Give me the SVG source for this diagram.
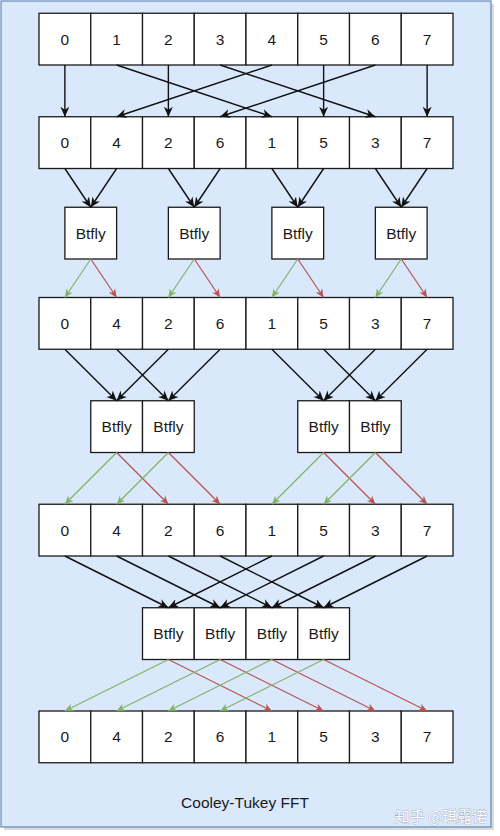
<svg xmlns="http://www.w3.org/2000/svg" width="500" height="836" viewBox="0 0 500 836">
<style>
.cell{fill:#ffffff;stroke:#1a1a1a;stroke-width:1.3}
.lbl{font-family:"Liberation Sans",Arial,sans-serif;font-size:15.5px;fill:#1a1a1a;text-anchor:middle}
.k{stroke:#111;stroke-width:1.4;fill:none;marker-end:url(#ak)}
.g{stroke:#82b366;stroke-width:1.2;fill:none;marker-end:url(#ag)}
.r{stroke:#b85450;stroke-width:1.2;fill:none;marker-end:url(#ar)}
</style>
<defs>
<marker id="ak" viewBox="0 0 10 10" refX="10" refY="5" markerWidth="10" markerHeight="10" markerUnits="userSpaceOnUse" orient="auto"><path d="M0,0.5 L10,5 L0,9.5 L3,5 z" fill="#111"/></marker>
<marker id="ag" viewBox="0 0 10 10" refX="10" refY="5" markerWidth="8.5" markerHeight="8.5" markerUnits="userSpaceOnUse" orient="auto"><path d="M0,0.5 L10,5 L0,9.5 L3,5 z" fill="#82b366"/></marker>
<marker id="ar" viewBox="0 0 10 10" refX="10" refY="5" markerWidth="8.5" markerHeight="8.5" markerUnits="userSpaceOnUse" orient="auto"><path d="M0,0.5 L10,5 L0,9.5 L3,5 z" fill="#b85450"/></marker>
</defs>
<rect x="4" y="4" width="490" height="826" fill="#9a9a9a" opacity="0.35"/>
<g id="background"><rect x="1" y="1" width="490" height="826" fill="#dae8fc" stroke="#6c8ebf" stroke-width="1.3"/></g>

<g id="row1">
<g id="r1c0"><rect class="cell" x="39" y="13.25" width="51.75" height="51.75"/><text class="lbl" x="64.875" y="44.6">0</text></g>
<g id="r1c1"><rect class="cell" x="90.75" y="13.25" width="51.75" height="51.75"/><text class="lbl" x="116.625" y="44.6">1</text></g>
<g id="r1c2"><rect class="cell" x="142.5" y="13.25" width="51.75" height="51.75"/><text class="lbl" x="168.375" y="44.6">2</text></g>
<g id="r1c3"><rect class="cell" x="194.25" y="13.25" width="51.75" height="51.75"/><text class="lbl" x="220.125" y="44.6">3</text></g>
<g id="r1c4"><rect class="cell" x="246" y="13.25" width="51.75" height="51.75"/><text class="lbl" x="271.875" y="44.6">4</text></g>
<g id="r1c5"><rect class="cell" x="297.75" y="13.25" width="51.75" height="51.75"/><text class="lbl" x="323.625" y="44.6">5</text></g>
<g id="r1c6"><rect class="cell" x="349.5" y="13.25" width="51.75" height="51.75"/><text class="lbl" x="375.375" y="44.6">6</text></g>
<g id="r1c7"><rect class="cell" x="401.25" y="13.25" width="51.75" height="51.75"/><text class="lbl" x="427.125" y="44.6">7</text></g>
</g>

<g id="row2">
<g id="r2c0"><rect class="cell" x="39" y="116.75" width="51.75" height="51.75"/><text class="lbl" x="64.875" y="148.1">0</text></g>
<g id="r2c1"><rect class="cell" x="90.75" y="116.75" width="51.75" height="51.75"/><text class="lbl" x="116.625" y="148.1">4</text></g>
<g id="r2c2"><rect class="cell" x="142.5" y="116.75" width="51.75" height="51.75"/><text class="lbl" x="168.375" y="148.1">2</text></g>
<g id="r2c3"><rect class="cell" x="194.25" y="116.75" width="51.75" height="51.75"/><text class="lbl" x="220.125" y="148.1">6</text></g>
<g id="r2c4"><rect class="cell" x="246" y="116.75" width="51.75" height="51.75"/><text class="lbl" x="271.875" y="148.1">1</text></g>
<g id="r2c5"><rect class="cell" x="297.75" y="116.75" width="51.75" height="51.75"/><text class="lbl" x="323.625" y="148.1">5</text></g>
<g id="r2c6"><rect class="cell" x="349.5" y="116.75" width="51.75" height="51.75"/><text class="lbl" x="375.375" y="148.1">3</text></g>
<g id="r2c7"><rect class="cell" x="401.25" y="116.75" width="51.75" height="51.75"/><text class="lbl" x="427.125" y="148.1">7</text></g>
</g>

<g id="btfly1">
<g id="b1n0"><rect class="cell" x="64.875" y="207.25" width="51.75" height="51.75"/><text class="lbl" x="90.75" y="238.6">Btfly</text></g>
<g id="b1n1"><rect class="cell" x="168.375" y="207.25" width="51.75" height="51.75"/><text class="lbl" x="194.25" y="238.6">Btfly</text></g>
<g id="b1n2"><rect class="cell" x="271.875" y="207.25" width="51.75" height="51.75"/><text class="lbl" x="297.75" y="238.6">Btfly</text></g>
<g id="b1n3"><rect class="cell" x="375.375" y="207.25" width="51.75" height="51.75"/><text class="lbl" x="401.25" y="238.6">Btfly</text></g>
</g>

<g id="row3">
<g id="r3c0"><rect class="cell" x="39" y="297.5" width="51.75" height="51.75"/><text class="lbl" x="64.875" y="328.9">0</text></g>
<g id="r3c1"><rect class="cell" x="90.75" y="297.5" width="51.75" height="51.75"/><text class="lbl" x="116.625" y="328.9">4</text></g>
<g id="r3c2"><rect class="cell" x="142.5" y="297.5" width="51.75" height="51.75"/><text class="lbl" x="168.375" y="328.9">2</text></g>
<g id="r3c3"><rect class="cell" x="194.25" y="297.5" width="51.75" height="51.75"/><text class="lbl" x="220.125" y="328.9">6</text></g>
<g id="r3c4"><rect class="cell" x="246" y="297.5" width="51.75" height="51.75"/><text class="lbl" x="271.875" y="328.9">1</text></g>
<g id="r3c5"><rect class="cell" x="297.75" y="297.5" width="51.75" height="51.75"/><text class="lbl" x="323.625" y="328.9">5</text></g>
<g id="r3c6"><rect class="cell" x="349.5" y="297.5" width="51.75" height="51.75"/><text class="lbl" x="375.375" y="328.9">3</text></g>
<g id="r3c7"><rect class="cell" x="401.25" y="297.5" width="51.75" height="51.75"/><text class="lbl" x="427.125" y="328.9">7</text></g>
</g>

<g id="btfly2">
<g id="b2n0"><rect class="cell" x="90.75" y="400.75" width="51.75" height="51.75"/><text class="lbl" x="116.625" y="432.1">Btfly</text></g>
<g id="b2n1"><rect class="cell" x="142.5" y="400.75" width="51.75" height="51.75"/><text class="lbl" x="168.375" y="432.1">Btfly</text></g>
<g id="b2n2"><rect class="cell" x="297.75" y="400.75" width="51.75" height="51.75"/><text class="lbl" x="323.625" y="432.1">Btfly</text></g>
<g id="b2n3"><rect class="cell" x="349.5" y="400.75" width="51.75" height="51.75"/><text class="lbl" x="375.375" y="432.1">Btfly</text></g>
</g>

<g id="row4">
<g id="r4c0"><rect class="cell" x="39" y="504.25" width="51.75" height="51.75"/><text class="lbl" x="64.875" y="535.6">0</text></g>
<g id="r4c1"><rect class="cell" x="90.75" y="504.25" width="51.75" height="51.75"/><text class="lbl" x="116.625" y="535.6">4</text></g>
<g id="r4c2"><rect class="cell" x="142.5" y="504.25" width="51.75" height="51.75"/><text class="lbl" x="168.375" y="535.6">2</text></g>
<g id="r4c3"><rect class="cell" x="194.25" y="504.25" width="51.75" height="51.75"/><text class="lbl" x="220.125" y="535.6">6</text></g>
<g id="r4c4"><rect class="cell" x="246" y="504.25" width="51.75" height="51.75"/><text class="lbl" x="271.875" y="535.6">1</text></g>
<g id="r4c5"><rect class="cell" x="297.75" y="504.25" width="51.75" height="51.75"/><text class="lbl" x="323.625" y="535.6">5</text></g>
<g id="r4c6"><rect class="cell" x="349.5" y="504.25" width="51.75" height="51.75"/><text class="lbl" x="375.375" y="535.6">3</text></g>
<g id="r4c7"><rect class="cell" x="401.25" y="504.25" width="51.75" height="51.75"/><text class="lbl" x="427.125" y="535.6">7</text></g>
</g>

<g id="btfly3">
<g id="b3n0"><rect class="cell" x="142.5" y="607.75" width="51.75" height="51.75"/><text class="lbl" x="168.375" y="639.1">Btfly</text></g>
<g id="b3n1"><rect class="cell" x="194.25" y="607.75" width="51.75" height="51.75"/><text class="lbl" x="220.125" y="639.1">Btfly</text></g>
<g id="b3n2"><rect class="cell" x="246" y="607.75" width="51.75" height="51.75"/><text class="lbl" x="271.875" y="639.1">Btfly</text></g>
<g id="b3n3"><rect class="cell" x="297.75" y="607.75" width="51.75" height="51.75"/><text class="lbl" x="323.625" y="639.1">Btfly</text></g>
</g>

<g id="row5">
<g id="r5c0"><rect class="cell" x="39" y="711" width="51.75" height="51.75"/><text class="lbl" x="64.875" y="742.4">0</text></g>
<g id="r5c1"><rect class="cell" x="90.75" y="711" width="51.75" height="51.75"/><text class="lbl" x="116.625" y="742.4">4</text></g>
<g id="r5c2"><rect class="cell" x="142.5" y="711" width="51.75" height="51.75"/><text class="lbl" x="168.375" y="742.4">2</text></g>
<g id="r5c3"><rect class="cell" x="194.25" y="711" width="51.75" height="51.75"/><text class="lbl" x="220.125" y="742.4">6</text></g>
<g id="r5c4"><rect class="cell" x="246" y="711" width="51.75" height="51.75"/><text class="lbl" x="271.875" y="742.4">1</text></g>
<g id="r5c5"><rect class="cell" x="297.75" y="711" width="51.75" height="51.75"/><text class="lbl" x="323.625" y="742.4">5</text></g>
<g id="r5c6"><rect class="cell" x="349.5" y="711" width="51.75" height="51.75"/><text class="lbl" x="375.375" y="742.4">3</text></g>
<g id="r5c7"><rect class="cell" x="401.25" y="711" width="51.75" height="51.75"/><text class="lbl" x="427.125" y="742.4">7</text></g>
</g>

<g id="connectors">
<!-- stage 0: bit reversal -->
<path class="k" d="M64.875,65 L64.875,116.75"/>
<path class="k" d="M116.625,65 L271.875,116.75"/>
<path class="k" d="M168.375,65 L168.375,116.75"/>
<path class="k" d="M220.125,65 L375.375,116.75"/>
<path class="k" d="M271.875,65 L116.625,116.75"/>
<path class="k" d="M323.625,65 L323.625,116.75"/>
<path class="k" d="M375.375,65 L220.125,116.75"/>
<path class="k" d="M427.125,65 L427.125,116.75"/>
<!-- stage 1 in -->
<path class="k" d="M64.875,168.5 L90.75,207.25"/>
<path class="k" d="M116.625,168.5 L90.75,207.25"/>
<path class="k" d="M168.375,168.5 L194.25,207.25"/>
<path class="k" d="M220.125,168.5 L194.25,207.25"/>
<path class="k" d="M271.875,168.5 L297.75,207.25"/>
<path class="k" d="M323.625,168.5 L297.75,207.25"/>
<path class="k" d="M375.375,168.5 L401.25,207.25"/>
<path class="k" d="M427.125,168.5 L401.25,207.25"/>
<!-- stage 1 out -->
<path class="g" d="M90.75,259 L64.875,297.5"/>
<path class="r" d="M90.75,259 L116.625,297.5"/>
<path class="g" d="M194.25,259 L168.375,297.5"/>
<path class="r" d="M194.25,259 L220.125,297.5"/>
<path class="g" d="M297.75,259 L271.875,297.5"/>
<path class="r" d="M297.75,259 L323.625,297.5"/>
<path class="g" d="M401.25,259 L375.375,297.5"/>
<path class="r" d="M401.25,259 L427.125,297.5"/>
<!-- stage 2 in -->
<path class="k" d="M64.875,349.25 L116.625,400.75"/>
<path class="k" d="M168.375,349.25 L116.625,400.75"/>
<path class="k" d="M116.625,349.25 L168.375,400.75"/>
<path class="k" d="M220.125,349.25 L168.375,400.75"/>
<path class="k" d="M271.875,349.25 L323.625,400.75"/>
<path class="k" d="M375.375,349.25 L323.625,400.75"/>
<path class="k" d="M323.625,349.25 L375.375,400.75"/>
<path class="k" d="M427.125,349.25 L375.375,400.75"/>
<!-- stage 2 out -->
<path class="g" d="M116.625,452.5 L64.875,504.25"/>
<path class="r" d="M116.625,452.5 L168.375,504.25"/>
<path class="g" d="M168.375,452.5 L116.625,504.25"/>
<path class="r" d="M168.375,452.5 L220.125,504.25"/>
<path class="g" d="M323.625,452.5 L271.875,504.25"/>
<path class="r" d="M323.625,452.5 L375.375,504.25"/>
<path class="g" d="M375.375,452.5 L323.625,504.25"/>
<path class="r" d="M375.375,452.5 L427.125,504.25"/>
<!-- stage 3 in -->
<path class="k" d="M64.875,556 L168.375,607.75"/>
<path class="k" d="M271.875,556 L168.375,607.75"/>
<path class="k" d="M116.625,556 L220.125,607.75"/>
<path class="k" d="M323.625,556 L220.125,607.75"/>
<path class="k" d="M168.375,556 L271.875,607.75"/>
<path class="k" d="M375.375,556 L271.875,607.75"/>
<path class="k" d="M220.125,556 L323.625,607.75"/>
<path class="k" d="M427.125,556 L323.625,607.75"/>
<!-- stage 3 out -->
<path class="g" d="M168.375,659.5 L64.875,711"/>
<path class="r" d="M168.375,659.5 L271.875,711"/>
<path class="g" d="M220.125,659.5 L116.625,711"/>
<path class="r" d="M220.125,659.5 L323.625,711"/>
<path class="g" d="M271.875,659.5 L168.375,711"/>
<path class="r" d="M271.875,659.5 L375.375,711"/>
<path class="g" d="M323.625,659.5 L220.125,711"/>
<path class="r" d="M323.625,659.5 L427.125,711"/>
</g>

<g id="title"><text class="lbl" x="245" y="808">Cooley-Tukey FFT</text></g>
<g id="watermark"><text x="441" y="822" font-family="'Noto Sans CJK SC','Liberation Sans',sans-serif" font-size="15" text-anchor="middle" fill="#ffffff" stroke="#8a96a6" stroke-width="0.6" paint-order="stroke">知乎 @琪露诺</text></g>
</svg>
